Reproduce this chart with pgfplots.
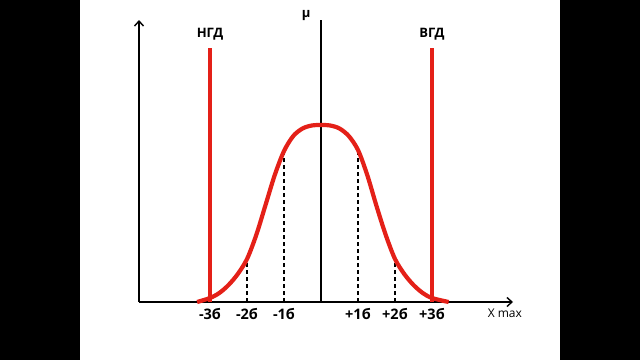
\documentclass[border=0pt]{standalone}
\usepackage{pgfplots}
\pgfplotsset{compat=1.18}
\usepackage{fontspec}
\setmainfont{Open Sans}
\usetikzlibrary{arrows.meta}
\definecolor{cred}{RGB}{228,32,24}
\begin{document}
\begin{tikzpicture}[x=1pt,y=1pt]
\fill[black] (0,0) rectangle (640,360);
\fill[white] (80,0) rectangle (560,360);
\begin{axis}[
  at={(139pt,58pt)}, anchor=south west,
  scale only axis, width=374pt, height=282pt,
  xmin=-4.92, xmax=5.19, ymin=0, ymax=282,
  axis lines=left,
  axis line style={line width=1.4pt, -{Straight Barb[length=5pt,width=9pt,line width=1.4pt]}},
  xtick={-3,-2,-1,1,2,3},
  xticklabels={-3б,-2б,-1б,+1б,+2б,+3б},
  major tick length=0pt,
  ytick=\empty,
  tick label style={font=\fontsize{14.5}{16}\selectfont\bfseries, yshift=-2.5pt},
  clip=false,
]
% red limit lines
\addplot[cred, line width=3.6pt] coordinates {(-3,0) (-3,254)};
\addplot[cred, line width=3.6pt] coordinates {(3,0) (3,254)};
% mean line
\addplot[black, line width=1.5pt] coordinates {(0,0) (0,282)};
% dashed sigma lines
\addplot[black, line width=1.1pt, dash pattern=on 4pt off 3pt] coordinates {(-2,0) (-2,42)};
\addplot[black, line width=1.1pt, dash pattern=on 4pt off 3pt] coordinates {(-1,0) (-1,151)};
\addplot[black, line width=1.1pt, dash pattern=on 4pt off 3pt] coordinates {(1,0) (1,152)};
\addplot[black, line width=1.1pt, dash pattern=on 4pt off 3pt] coordinates {(2,0) (2,43)};
% distribution curve
\addplot[cred, line width=4.2pt, smooth, tension=0.5] coordinates {
 (-3.35,0) (-3.0,4) (-2.75,9) (-2.5,17) (-2.25,28) (-2.0,43) (-1.75,67)
 (-1.5,97) (-1.25,127) (-1.0,151) (-0.75,166) (-0.5,173.5) (-0.25,176.5) (0,177)
 (0.25,176.5) (0.5,173.5) (0.75,166) (1.0,152) (1.25,127) (1.5,96) (1.75,67)
 (2.0,43) (2.25,28) (2.5,17) (2.75,9) (3.0,4) (3.45,0)};
\node[font=\fontsize{13}{15}\selectfont\bfseries] at (axis cs:-3,268) {НГД};
\node[font=\fontsize{13}{15}\selectfont\bfseries] at (axis cs:3,268) {ВГД};
\node[font=\fontsize{13}{15}\selectfont\bfseries] at (axis cs:-0.4,286) {μ};
\node[font=\fontsize{12}{14}\selectfont] at (axis cs:4.97,-11) {X max};
\end{axis}
\end{tikzpicture}
\end{document}
